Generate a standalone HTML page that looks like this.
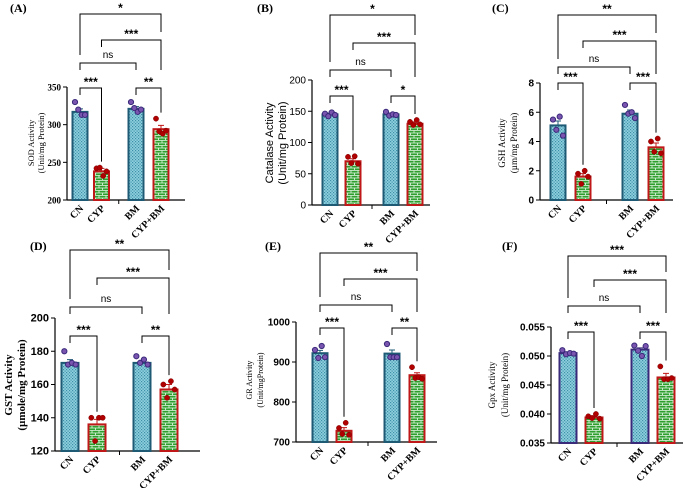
<!DOCTYPE html>
<html><head><meta charset="utf-8"><style>
body{margin:0;background:#fff;}
svg{display:block;}
</style></head><body>
<svg id="fig" width="685" height="488" viewBox="0 0 685 488" xmlns="http://www.w3.org/2000/svg">
<defs>
<pattern id="hatch" width="3" height="3" patternUnits="userSpaceOnUse"><rect width="3" height="3" fill="#8fd0de"/><rect width="1.2" height="1.2" fill="#3d8fa8"/><rect x="1.5" y="1.5" width="1.2" height="1.2" fill="#3d8fa8"/></pattern>
<pattern id="brick" width="7" height="5" patternUnits="userSpaceOnUse"><rect width="7" height="5" fill="#2e9e2e"/><path d="M0 0.5H7M0 3H7M1 0.5V3M4.5 3V5" stroke="#e8f8e8" stroke-width="0.8"/></pattern>
</defs>
</svg>
<script>
const categories=["CN","CYP","BM","CYP+BM"];
const meansA=[317,238,321,294], semA=[4,4,3,5], ptsA=[[330,320,313,313],[242,243,232,238],[330,322,317,320],[308,291,288,292]];
const meansB=[145,70,145,130], semB=[2,4,2,3], ptsB=[[146,142,148,144],[77,67,78,66],[149,143,145,144],[133,128,136,129]];
const meansC=[5.1,1.6,5.9,3.6], semC=[0.3,0.2,0.25,0.3], ptsC=[[5.5,4.8,5.7,4.4],[1.8,1.1,2.0,1.6],[6.5,5.9,6.0,5.6],[4.0,3.3,4.2,3.2]];
const meansD=[173,136,173,157], semD=[2,3,1.5,3], ptsD=[[180,172,173,172],[140,126,140,140],[177,173,175,172],[160,152,162,157]];
const meansE=[922,728,921,867], semE=[7,8,9,6], ptsE=[[930,910,940,912],[735,720,748,718],[945,912,912,912],[887,860,862,858]];
const meansF=[0.0505,0.0394,0.0511,0.0463], semF=[0.0002,0.0003,0.0003,0.0007], ptsF=[[0.0510,0.0503,0.0505,0.0504],[0.0396,0.0393,0.0400,0.0392],[0.0518,0.0509,0.0500,0.0517],[0.0482,0.0460,0.0460,0.0462]];
const ticksA=[200,250,300,350], ticksB=[0,50,100,150,200], ticksC=[0,2,4,6,8], ticksD=[120,140,160,180,200], ticksE=[700,800,900,1000], ticksF=["0.035","0.040","0.045","0.050","0.055"];
const sigA=["***","**","ns","***","*"], sigB=["***","*","ns","***","*"], sigC=["***","***","ns","***","**"], sigD=["***","**","ns","***","**"], sigE=["***","**","ns","***","**"], sigF=["***","***","ns","***","***"];

const NS="http://www.w3.org/2000/svg";
const svg=document.getElementById('fig');
function mk(tag,attrs,parent,text){const e=document.createElementNS(NS,tag);for(const k in attrs)e.setAttribute(k,attrs[k]);if(text!==undefined)e.textContent=text;(parent||svg).appendChild(e);return e;}

const panels=[
 {id:"a",label:"(A)",lx:10,ly:12,ax:67,x1:185,top:87,bot:200,min:200,max:350,ticks:ticksA,means:meansA,sem:semA,pts:ptsA,sig:sigA,cx:[80,101.5,136,161],w:15,
  br:[88,63,40,14],tf:"Liberation Serif",tfs:9,tfw:"bold",yt:["SOD Activity","(Unit/mg Protein)"],ytx:[34,44],yty:143,ytf:"Liberation Serif",ytfs:8.5,ytw:"normal",blue:"#1e5a74"},
 {id:"b",label:"(B)",lx:257,ly:12,ax:312,x1:430,top:80,bot:205,min:0,max:200,ticks:ticksB,means:meansB,sem:semB,pts:ptsB,sig:sigB,cx:[330,353,391,415],w:15,
  br:[96,70,43,15],tf:"Liberation Sans",tfs:10,tfw:"normal",yt:["Catalase Activity","(Unit/mg Protein)"],ytx:[273,286],yty:143,ytf:"Liberation Sans",ytfs:11,ytw:"normal",blue:"#1e5a74"},
 {id:"c",label:"(C)",lx:492,ly:12,ax:540,x1:673,top:83,bot:200,min:0,max:8,ticks:ticksC,means:meansC,sem:semC,pts:ptsC,sig:sigC,cx:[558,583,630,656],w:15,
  br:[83,67,41,15],tf:"Liberation Sans",tfs:10,tfw:"bold",yt:["GSH Activity","(µm/mg Protein)"],ytx:[505,517],yty:143,ytf:"Liberation Serif",ytfs:9,ytw:"normal",blue:"#1e5a74"},
 {id:"d",label:"(D)",lx:30,ly:250,ax:55,x1:200,top:318,bot:451,min:120,max:200,ticks:ticksD,means:meansD,sem:semD,pts:ptsD,sig:sigD,cx:[70,97,142,169],w:17,
  br:[336,307,278,250],tf:"Liberation Sans",tfs:11,tfw:"bold",yt:["GST Activity","(µmole/mg Protein)"],ytx:[12,25],yty:385,ytf:"Liberation Serif",ytfs:11,ytw:"bold",blue:"#1e5a74"},
 {id:"e",label:"(E)",lx:265,ly:250,ax:296,x1:437,top:322,bot:442,min:700,max:1000,ticks:ticksE,means:meansE,sem:semE,pts:ptsE,sig:sigE,cx:[320,344,392,417],w:15,
  br:[328,305,279,253],tf:"Liberation Sans",tfs:10,tfw:"bold",yt:["GR Activity","(Unit/mgProtein)"],ytx:[252,263],yty:380,ytf:"Liberation Serif",ytfs:8,ytw:"normal",blue:"#1e5a74"},
 {id:"f",label:"(F)",lx:502,ly:250,ax:551,x1:683,top:327,bot:443,min:0.035,max:0.055,ticks:ticksF,means:meansF,sem:semF,pts:ptsF,sig:sigF,cx:[568,594,640,666],w:17,
  br:[332,306,280,256],tf:"Liberation Sans",tfs:10,tfw:"bold",yt:["Gpx Activity","(Unit/mg Protein)"],ytx:[495,508],yty:385,ytf:"Liberation Serif",ytfs:9,ytw:"normal",blue:"#3a2a7a"}
];

panels.forEach(p=>{
  const g=mk('g',{});
  
  
  const Y=v=>p.bot-(v-p.min)/(p.max-p.min)*(p.bot-p.top);
  const t=mk('text',{x:p.lx,y:p.ly,'font-family':'Liberation Serif','font-size':12,'font-weight':'bold'},g,p.label);
  
  
  p.yt.forEach((s,i)=>{
    const e=mk('text',{x:p.ytx[i],y:p.yty,'font-family':p.ytf,'font-size':p.ytfs,'font-weight':p.ytw,'text-anchor':'middle',transform:`rotate(-90 ${p.ytx[i]} ${p.yty})`},g,s);
    
    
  });
  const ya=mk('line',{x1:p.ax,y1:p.top,x2:p.ax,y2:p.bot,stroke:'#000','stroke-width':1.2},g);
  
  
  const xa=mk('line',{x1:p.ax,y1:p.bot,x2:p.x1,y2:p.bot,stroke:'#000','stroke-width':1.2},g);
  
  
  const mid=(p.cx[1]+p.cx[2])/2;
  mk('line',{x1:mid,y1:p.bot,x2:mid,y2:p.bot+4,stroke:'#000'},g);
  p.ticks.forEach(tv=>{
    const y=Y(+tv);
    mk('line',{x1:p.ax-4,y1:y,x2:p.ax,y2:y,stroke:'#000'},g);
    const e=mk('text',{x:p.ax-6,y:y+3.5,'text-anchor':'end','font-family':p.tf,'font-size':p.tfs,'font-weight':p.tfw},g,String(tv));
    
    
  });
  p.means.forEach((m,i)=>{
    const blue=i%2===0;
    const x=p.cx[i]-p.w/2, y=Y(m);
    const col=blue?p.blue:'#c01818';
    const b=mk('rect',{x:x,y:y,width:p.w,height:p.bot-y,fill:blue?'url(#hatch)':'url(#brick)',stroke:col,'stroke-width':2},g);
    
    
    const ye=Y(m+p.sem[i]);
    mk('path',{d:`M${p.cx[i]} ${y}V${ye}M${p.cx[i]-3} ${ye}H${p.cx[i]+3}`,stroke:col,'stroke-width':1,fill:'none'},g);
    const offs=[-5,-1.7,1.7,5];
    p.pts[i].forEach((v,k)=>{
      const c=mk('circle',{cx:p.cx[i]+offs[k]*p.w/15,cy:Y(v),r:2.6,fill:blue?'#7a55b0':'#b00000',stroke:blue?'#3a2a7a':'#800000','stroke-width':blue?1:0.5},g);
      
      
    });
    const lx=p.cx[i]+4, ly=p.bot+9;
    const xl=mk('text',{x:lx,y:ly,'text-anchor':'end','font-family':'Liberation Serif','font-size':10,'font-weight':'bold',transform:`rotate(-45 ${lx} ${ly})`},g,categories[i]);
    
    
  });
  const topPt=i=>Y(Math.max(...p.pts[i],p.means[i]+p.sem[i]))-6;
  const bl=[
    [0,1,p.br[0],p.br[0]+7,topPt(1),p.sig[0]],
    [2,3,p.br[0],p.br[0]+7,topPt(3),p.sig[1]],
    [0,2,p.br[1],p.br[1]+7,p.br[1]+7,p.sig[2]],
    [1,3,p.br[2],p.br[2]+7,p.br[1]+7,p.sig[3]],
    [0,3,p.br[3],p.br[1]-8,p.br[2]-8,p.sig[4]]
  ];
  bl.forEach((b,k)=>{
    const xa=p.cx[b[0]], xb=p.cx[b[1]];
    const pa=mk('path',{d:`M${xa} ${b[3]}V${b[2]}H${xb}V${b[4]}`,stroke:'#000','stroke-width':1,fill:'none'},g);
    
    
    const isNs=b[5]==='ns';
    const tx=mk('text',{x:(xa+xb)/2,y:b[2]-(isNs?5:2),'text-anchor':'middle','font-family':'Liberation Sans','font-size':isNs?10:12,'font-weight':isNs?'normal':'bold'},g,b[5]);
    
    
  });
});
</script>
</body></html>
